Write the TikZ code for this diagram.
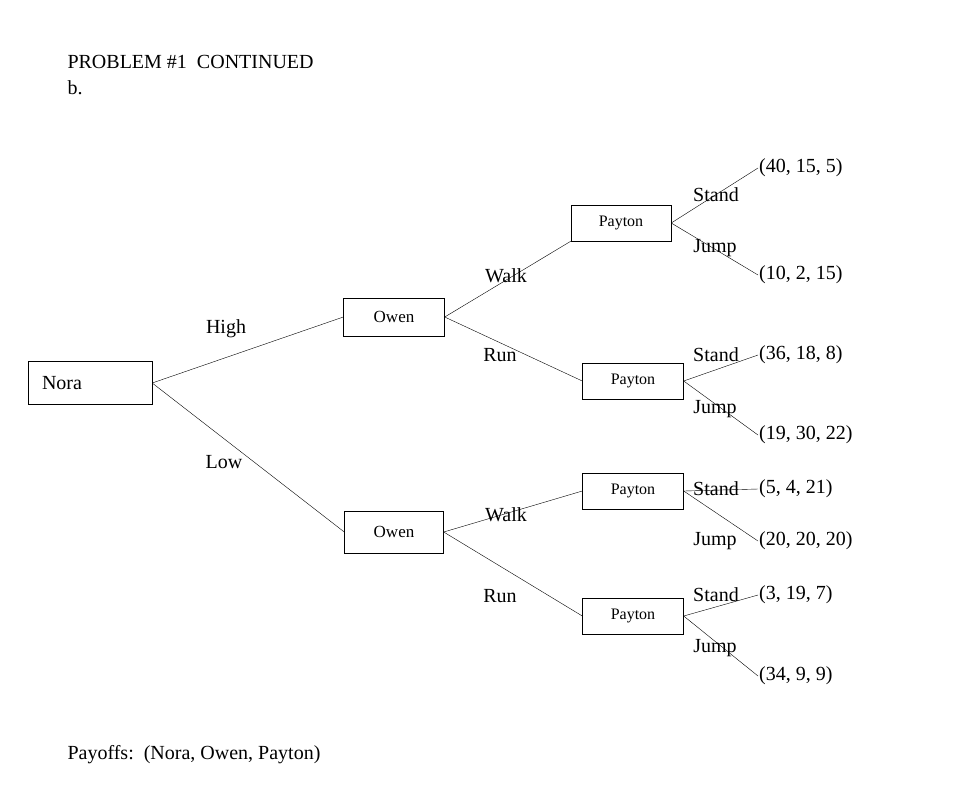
\documentclass[tikz,border=0pt]{standalone}
\usepackage{fontspec}
\setmainfont{Liberation Serif}
\usetikzlibrary{positioning}

\begin{document}
\begin{tikzpicture}[x=1pt,y=-1pt]
    \tikzset{big/.style={font=\fontsize{20}{24}\selectfont},
             block/.style={draw, rectangle, inner sep=0pt},
             pay/.style={big, anchor=west, inner sep=1pt},
             lbl/.style={big, inner sep=0pt}}
    \useasboundingbox (0,0) rectangle (957,796);

    \node [big, anchor=west] (title) at (64,62) {PROBLEM \#1\ \ CONTINUED};
    \node [big, anchor=west] (part) at (64,88) {b.};
    \node [big, anchor=west] (note) at (64,755) {Payoffs:\ \ (Nora, Owen, Payton)};

    \node [block, big, minimum width=124pt, minimum height=43pt] (nora) at (90,383) {\hspace*{-56pt}Nora};
    \node [block, font=\fontsize{17}{20}\selectfont, minimum width=101pt, minimum height=38pt] (owenA) at (394,317) {Owen};
    \node [block, font=\fontsize{17}{20}\selectfont, minimum width=99pt, minimum height=42pt] (owenB) at (394,532) {Owen};
    \node [block, font=\fontsize{16}{20}\selectfont, minimum width=100pt, minimum height=36pt] (payA) at (621,223) {Payton};
    \node [block, font=\fontsize{16}{20}\selectfont, minimum width=101pt, minimum height=36pt] (payB) at (633,381) {Payton};
    \node [block, font=\fontsize{16}{20}\selectfont, minimum width=101pt, minimum height=36pt] (payC) at (633,491) {Payton};
    \node [block, font=\fontsize{16}{20}\selectfont, minimum width=101pt, minimum height=36pt] (payD) at (633,616) {Payton};

    \node [pay] (r1) at (758,168) {(40, 15, 5)};
    \node [pay] (r2) at (758,275) {(10, 2, 15)};
    \node [pay] (r3) at (758,355) {(36, 18, 8)};
    \node [pay] (r4) at (758,435) {(19, 30, 22)};
    \node [pay] (r5) at (758,489) {(5, 4, 21)};
    \node [pay] (r6) at (758,541) {(20, 20, 20)};
    \node [pay] (r7) at (758,595) {(3, 19, 7)};
    \node [pay] (r8) at (758,676) {(34, 9, 9)};

    \draw (nora.east) -- (owenA.west);
    \draw (nora.east) -- (owenB.west);
    \draw (owenA.east) -- (payA.south west);
    \draw (owenA.east) -- (payB.west);
    \draw (owenB.east) -- (payC.west);
    \draw (owenB.east) -- (payD.west);
    \draw (payA.east) -- (r1.west);
    \draw (payA.east) -- (r2.west);
    \draw (payB.east) -- (r3.west);
    \draw (payB.east) -- (r4.west);
    \draw (payC.east) -- (r5.west);
    \draw (payC.east) -- (r6.west);
    \draw (payD.east) -- (r7.west);
    \draw (payD.east) -- (r8.west);

    \node [lbl] (high) at (226,329) {High};
    \node [lbl] (low) at (224,462) {Low};
    \node [lbl] (walkA) at (506,276) {Walk};
    \node [lbl] (runA) at (500,355) {Run};
    \node [lbl] (walkB) at (506,515) {Walk};
    \node [lbl] (runB) at (500,596) {Run};
    \node [lbl] (standA) at (716,195) {Stand};
    \node [lbl] (jumpA) at (715,248) {Jump};
    \node [lbl] (standB) at (716,355) {Stand};
    \node [lbl] (jumpB) at (715,409) {Jump};
    \node [lbl] (standC) at (716,489) {Stand};
    \node [lbl] (jumpC) at (715,541) {Jump};
    \node [lbl] (standD) at (716,595) {Stand};
    \node [lbl] (jumpD) at (715,648) {Jump};
\end{tikzpicture}
\end{document}
